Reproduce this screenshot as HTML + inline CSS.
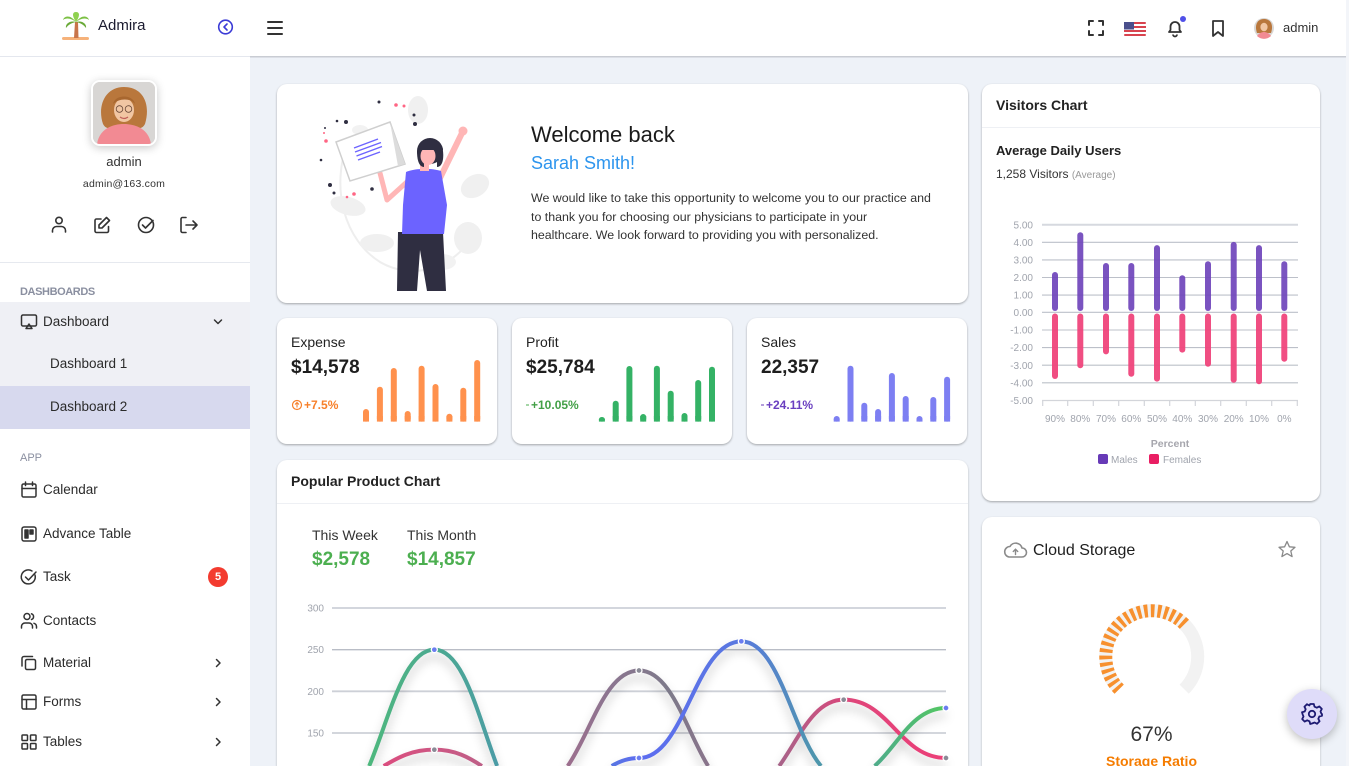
<!DOCTYPE html>
<html><head><meta charset="utf-8">
<style>
*{margin:0;padding:0;box-sizing:border-box}
html,body{width:1349px;height:766px;overflow:hidden}
body{background:#eef2f8;font-family:"Liberation Sans",Arial,sans-serif;color:#212529;position:relative}
#root{position:absolute;left:0;top:0;width:1349px;height:766px;overflow:hidden;background:#eef2f8}
.t{position:absolute;white-space:nowrap;line-height:1}
.card{position:absolute;background:#fff;border-radius:10px;box-shadow:0 1px 2px rgba(0,0,0,.32)}
.cardb{position:absolute;background:#fff;border-radius:10px 10px 0 0;box-shadow:0 1px 2px rgba(0,0,0,.25)}
.sb{font-size:13.5px;color:#2b2b2b}
.gl{font-size:10px;fill:#a0a4ad;font-family:"Liberation Sans",Arial,sans-serif}
</style></head><body><div id="root">

<!-- header -->
<div style="position:absolute;left:0;top:0;width:1349px;height:56px;background:#fff"></div>
<div style="position:absolute;left:0;top:56px;width:250px;height:1px;background:#e4e7ee"></div>
<div style="position:absolute;left:250px;top:56px;width:1099px;height:2px;background:linear-gradient(#bfc3ca,#e6e9ef)"></div>
<div style="position:absolute;left:1346px;top:0;width:3px;height:766px;background:#f3f5f9"></div>

<!-- sidebar -->
<div style="position:absolute;left:0;top:57px;width:250px;height:709px;background:#fff"></div>
<div style="position:absolute;left:0;top:262px;width:250px;height:1px;background:#e6e9ef"></div>
<div style="position:absolute;left:0;top:302px;width:250px;height:84px;background:#eff0f5"></div>
<div style="position:absolute;left:0;top:386px;width:250px;height:43px;background:#d7d9ee"></div>

<div class="t" style="left:98px;top:18px;font-size:15px;color:#1b1b2f">Admira</div>
<div class="t" style="left:1283px;top:21px;font-size:13px;color:#333">admin</div>

<!-- profile avatar -->
<div style="position:absolute;left:91px;top:80px;width:66px;height:66px;border:2px solid #fff;border-radius:9px;box-shadow:0 2px 9px rgba(0,0,0,.22);overflow:hidden;background:#d9d9d9">
<svg width="62" height="62" viewBox="0 0 62 62">
<rect width="62" height="62" fill="#d8d6d4"/>
<path d="M10,42 C4,24 12,5 31,5 C50,5 58,22 52,42 C48,50 40,44 31,46 C22,44 14,50 10,42Z" fill="#b9773c"/>
<ellipse cx="31" cy="28" rx="10" ry="12" fill="#f1c6a3"/>
<path d="M20,22 C22,12 40,12 42,22 C38,16 26,16 20,22Z" fill="#a8672f"/>
<circle cx="26.5" cy="27" r="3.3" fill="none" stroke="#6a4a3a" stroke-width=".8"/>
<circle cx="35.5" cy="27" r="3.3" fill="none" stroke="#6a4a3a" stroke-width=".8"/>
<path d="M27,35 q4,3 8,0" stroke="#c0605a" stroke-width="1.2" fill="none"/>
<path d="M4,62 C6,48 18,42 31,42 C44,42 56,48 58,62Z" fill="#f28a93"/>
</svg></div>
<div class="t" style="left:0;width:248px;text-align:center;top:155px;font-size:13px;color:#333">admin</div>
<div class="t" style="left:0;width:248px;text-align:center;top:178.5px;font-size:10.5px;color:#333;letter-spacing:.2px">admin@163.com</div>

<div class="t" style="left:20px;top:286.5px;font-size:11px;font-weight:bold;color:#8a8fa0;letter-spacing:-.4px">DASHBOARDS</div>
<div class="t sb" style="left:43px;top:314.8px">Dashboard</div>
<div class="t sb" style="left:50px;top:356.8px">Dashboard 1</div>
<div class="t sb" style="left:50px;top:399.8px">Dashboard 2</div>
<div class="t" style="left:20px;top:452.5px;font-size:11px;color:#8a8fa0">APP</div>
<div class="t sb" style="left:43px;top:482.8px">Calendar</div>
<div class="t sb" style="left:43px;top:526.8px">Advance Table</div>
<div class="t sb" style="left:43px;top:569.8px">Task</div>
<div class="t sb" style="left:43px;top:613.8px">Contacts</div>
<div class="t sb" style="left:43px;top:655.8px">Material</div>
<div class="t sb" style="left:43px;top:694.8px">Forms</div>
<div class="t sb" style="left:43px;top:734.8px">Tables</div>
<div style="position:absolute;left:208px;top:567px;width:20px;height:20px;border-radius:10px;background:#f33b2f;color:#fff;font-size:11px;font-weight:bold;text-align:center;line-height:20px">5</div>

<!-- cards -->
<div class="card" style="left:277px;top:84px;width:691px;height:219px"></div>
<div class="card" style="left:277px;top:318px;width:220px;height:126px"></div>
<div class="card" style="left:512px;top:318px;width:220px;height:126px"></div>
<div class="card" style="left:747px;top:318px;width:220px;height:126px"></div>
<div class="cardb" style="left:277px;top:460px;width:691px;height:306px"></div>
<div class="card" style="left:982px;top:84px;width:338px;height:417px"></div>
<div class="cardb" style="left:982px;top:517px;width:338px;height:249px"></div>
<div style="position:absolute;left:277px;top:503px;width:691px;height:1px;background:#eef0f4"></div>
<div style="position:absolute;left:982px;top:127px;width:338px;height:1px;background:#eef0f4"></div>

<!-- welcome text -->
<div class="t" style="left:531px;top:124px;font-size:22px;color:#1a1a1a">Welcome back</div>
<div class="t" style="left:531px;top:153.5px;font-size:18px;color:#2d95ee">Sarah Smith!</div>
<div class="t" style="left:531px;top:192.4px;font-size:12.4px;color:#333">We would like to take this opportunity to welcome you to our practice and</div>
<div class="t" style="left:531px;top:211.4px;font-size:12.4px;color:#333">to thank you for choosing our physicians to participate in your</div>
<div class="t" style="left:531px;top:229.4px;font-size:12.4px;color:#333">healthcare. We look forward to providing you with personalized.</div>

<!-- small cards text -->
<div class="t" style="left:291px;top:334.6px;font-size:14px;color:#222">Expense</div>
<div class="t" style="left:291px;top:357.7px;font-size:19px;font-weight:bold;color:#1e1e1e">$14,578</div>
<div class="t" style="left:304px;top:399px;font-size:12px;font-weight:bold;color:#f7802a">+7.5%</div>
<div class="t" style="left:526px;top:334.6px;font-size:14px;color:#222">Profit</div>
<div class="t" style="left:526px;top:357.7px;font-size:19px;font-weight:bold;color:#1e1e1e">$25,784</div>
<div class="t" style="left:531px;top:399px;font-size:12px;font-weight:bold;color:#43a047">+10.05%</div>
<div class="t" style="left:761px;top:334.6px;font-size:14px;color:#222">Sales</div>
<div class="t" style="left:761px;top:357.7px;font-size:19px;font-weight:bold;color:#1e1e1e">22,357</div>
<div class="t" style="left:766px;top:399px;font-size:12px;font-weight:bold;color:#6a3fc0">+24.11%</div>

<!-- popular -->
<div class="t" style="left:291px;top:474px;font-size:14px;font-weight:bold;color:#222">Popular Product Chart</div>
<div class="t" style="left:312px;top:527.6px;font-size:14px;color:#333">This Week</div>
<div class="t" style="left:312px;top:549.7px;font-size:19px;font-weight:bold;color:#4caf50">$2,578</div>
<div class="t" style="left:407px;top:527.6px;font-size:14px;color:#333">This Month</div>
<div class="t" style="left:407px;top:549.7px;font-size:19px;font-weight:bold;color:#4caf50">$14,857</div>

<!-- visitors -->
<div class="t" style="left:996px;top:98px;font-size:14px;font-weight:bold;color:#222">Visitors Chart</div>
<div class="t" style="left:996px;top:144.1px;font-size:13px;font-weight:bold;color:#222">Average Daily Users</div>
<div class="t" style="left:996px;top:167.6px;font-size:12px;color:#333">1,258 Visitors <span style="font-size:10px;color:#999">(Average)</span></div>

<!-- cloud -->
<div class="t" style="left:1033px;top:542.5px;font-size:16px;color:#1e1e1e">Cloud Storage</div>
<div class="t" style="left:1101px;top:723.7px;width:101px;text-align:center;font-size:21px;color:#333">67%</div>
<div style="position:absolute;left:1091px;top:753px;width:121px;height:13px;overflow:hidden">
<div style="position:absolute;left:0;top:0.6px;width:121px;height:12.4px;overflow:hidden;white-space:nowrap;line-height:14px;text-align:center;font-size:14px;font-weight:bold;color:#f57c00">Storage Ratio</div>
</div>

<svg width="1349" height="766" style="position:absolute;left:0;top:0" viewBox="0 0 1349 766">
<defs>
<linearGradient id="gA" gradientUnits="userSpaceOnUse" x1="332" y1="0" x2="946" y2="0">
<stop offset="0" stop-color="#4fbf72"/><stop offset=".25" stop-color="#4b9fa0"/><stop offset=".5" stop-color="#5c6cf0"/><stop offset=".66" stop-color="#5a78e0"/><stop offset=".8" stop-color="#4d98a8"/><stop offset="1" stop-color="#52c761"/>
</linearGradient>
<linearGradient id="gB" gradientUnits="userSpaceOnUse" x1="332" y1="0" x2="946" y2="0">
<stop offset="0" stop-color="#e8457a"/><stop offset=".2" stop-color="#c85a85"/><stop offset=".45" stop-color="#8c7590"/><stop offset=".55" stop-color="#7d7a8a"/><stop offset=".7" stop-color="#9a6a8c"/><stop offset=".85" stop-color="#e0457a"/><stop offset="1" stop-color="#ec3f78"/>
</linearGradient>
<filter id="sh" x="-10%" y="-20%" width="120%" height="160%"><feDropShadow dx="0" dy="7" stdDeviation="5" flood-color="#000" flood-opacity=".22"/></filter>
<clipPath id="cb"><rect x="0" y="0" width="1349" height="421.7"/></clipPath>
<clipPath id="cpage"><rect x="0" y="0" width="1349" height="766"/></clipPath>
</defs>
<g clip-path="url(#cpage)">

<!-- logo palm -->
<g>
<rect x="62" y="37" width="27" height="3" rx="1.5" fill="#f6b27a"/>
<path d="M74,38 L75,22 L78,22 L78.5,38Z" fill="#c8744a"/>
<path d="M76,22 C70,14 64,16 63,20 C67,17 72,19 76,22Z" fill="#7bc043"/>
<path d="M76,22 C82,14 88,16 89,20 C85,17 80,19 76,22Z" fill="#7bc043"/>
<path d="M76,22 C72,16 72,12 76,12 C80,12 80,16 76,22Z" fill="#8fd14f"/>
<path d="M76,22 C70,20 65,24 66,28 C69,24 72,23 76,22Z" fill="#6aaa38"/>
<path d="M76,22 C82,20 87,24 86,28 C83,24 80,23 76,22Z" fill="#6aaa38"/>
</g>
<!-- collapse -->
<circle cx="225.5" cy="27" r="6.8" fill="none" stroke="#3b3bd6" stroke-width="1.6"/>
<path d="M227,24 L224,27 L227,30" fill="none" stroke="#3b3bd6" stroke-width="1.6" stroke-linecap="round" stroke-linejoin="round"/>
<!-- hamburger -->
<g stroke="#333" stroke-width="2" stroke-linecap="round"><line x1="268" y1="22" x2="282" y2="22"/><line x1="268" y1="28" x2="282" y2="28"/><line x1="268" y1="34" x2="282" y2="34"/></g>
<!-- fullscreen -->
<g fill="none" stroke="#333" stroke-width="2" stroke-linecap="round" stroke-linejoin="round">
<path d="M1089,25 V21 H1093"/><path d="M1099,21 H1103 V25"/><path d="M1103,31 V35 H1099"/><path d="M1093,35 H1089 V31"/>
</g>
<!-- flag -->
<g>
<rect x="1124" y="22" width="22" height="14" rx="3" fill="#fff"/>
<g fill="#d8434f"><rect x="1124" y="22" width="22" height="2" rx="1"/><rect x="1124" y="26" width="22" height="2"/><rect x="1124" y="30" width="22" height="2"/><rect x="1124" y="34" width="22" height="2" rx="1"/></g>
<rect x="1124" y="22" width="10" height="7.5" fill="#4a4f8c"/>
</g>
<!-- bell -->
<path d="M1169,32 H1181 L1179.5,30 V26.5 A4.5,4.5 0 0 0 1170.5,26.5 V30 Z" fill="none" stroke="#333" stroke-width="1.8" stroke-linejoin="round"/>
<path d="M1173,34.5 A2,2 0 0 0 1177,34.5" fill="none" stroke="#333" stroke-width="1.8"/>
<circle cx="1183" cy="19" r="3" fill="#5050e8"/>
<!-- bookmark -->
<path d="M1213,21 H1223 V36 L1218,32 L1213,36 Z" fill="none" stroke="#333" stroke-width="1.8" stroke-linejoin="round"/>
<!-- header avatar -->
<circle cx="1264" cy="28" r="10" fill="#d8d6d4"/>
<path d="M1257,33 C1254,24 1258,19 1264,19 C1270,19 1274,24 1271,33Z" fill="#b9773c"/>
<ellipse cx="1264" cy="27" rx="3.6" ry="4.3" fill="#f1c6a3"/>
<path d="M1257,36 C1259,33 1262,32 1264,32 C1266,32 1269,33 1271,36 A10,10 0 0 1 1257,36Z" fill="#f28a93"/>

<!-- profile icons -->
<g fill="none" stroke="#333" stroke-width="1.6" stroke-linecap="round" stroke-linejoin="round">
<circle cx="59" cy="220.5" r="3.2"/><path d="M52.5,232 V230.5 A4,4 0 0 1 56.5,226.5 H61.5 A4,4 0 0 1 65.5,230.5 V232"/>
<path d="M101,219 H96.5 A1.5,1.5 0 0 0 95,220.5 V231 A1.5,1.5 0 0 0 96.5,232.5 H107 A1.5,1.5 0 0 0 108.5,231 V226.5"/><path d="M106.5,217.5 L109.5,220.5 L102,228 H99 V225 Z"/>
<circle cx="146" cy="225" r="7.5"/><path d="M142.5,225 L145.5,228 L153,220.5"/>
<path d="M186,217.5 H182.5 A1.5,1.5 0 0 0 181,219 V231 A1.5,1.5 0 0 0 182.5,232.5 H186"/><path d="M186,225 H197 M193,221 L197,225 L193,229"/>
</g>

<!-- sidebar icons -->
<g fill="none" stroke="#333" stroke-width="1.5" stroke-linecap="round" stroke-linejoin="round">
<rect x="21.5" y="315" width="15" height="11" rx="1.5"/><path d="M26,328.5 L29,324 L32,328.5 Z"/>
<path d="M214.5,320 L218,323.5 L221.5,320"/>
<rect x="22" y="484" width="14" height="13" rx="1.5"/><path d="M22,488.5 H36 M25.5,482 V485.5 M32.5,482 V485.5"/>
<rect x="22" y="527" width="14" height="14" rx="2"/><rect x="25" y="530" width="3" height="8" fill="#333"/><rect x="30" y="530" width="3" height="4" fill="#333"/>
<path d="M35,575 A7,7 0 1 1 32,571"/><path d="M25.5,577 L28.5,580 L36,572"/>
<circle cx="27" cy="616.5" r="3"/><path d="M21.5,628 V626.5 A3.5,3.5 0 0 1 25,623 H29 A3.5,3.5 0 0 1 32.5,626.5 V628"/><path d="M31.5,613.8 A3,3 0 0 1 31.5,619.5 M34,623.3 A3.5,3.5 0 0 1 36.5,626.5 V628"/>
<rect x="25.5" y="659.5" width="10" height="10" rx="1.5"/><path d="M32.5,656.5 H24 A2,2 0 0 0 22,658.5 V666"/>
<path d="M216.5,659.5 L220,663 L216.5,666.5"/>
<rect x="22" y="695" width="14" height="14" rx="1.5"/><path d="M22,699.5 H36 M26.5,699.5 V709"/>
<path d="M216.5,698.5 L220,702 L216.5,705.5"/>
<rect x="22" y="735" width="5.5" height="5.5" rx=".8"/><rect x="30.5" y="735" width="5.5" height="5.5" rx=".8"/><rect x="22" y="743.5" width="5.5" height="5.5" rx=".8"/><rect x="30.5" y="743.5" width="5.5" height="5.5" rx=".8"/>
<path d="M216.5,738.5 L220,742 L216.5,745.5"/>
</g>

<!-- welcome illustration -->
<g>
<path d="M348,140 C330,190 345,240 380,262 C410,280 450,270 470,240" fill="none" stroke="#eeeeee" stroke-width="2"/>
<ellipse cx="418" cy="110" rx="10" ry="14" fill="#f0f0f0"/>
<ellipse cx="475" cy="186" rx="15" ry="11" fill="#f0f0f0" transform="rotate(-30 475 186)"/>
<ellipse cx="468" cy="238" rx="14" ry="16" fill="#f0f0f0"/>
<ellipse cx="348" cy="206" rx="18" ry="9" fill="#f0f0f0" transform="rotate(15 348 206)"/>
<ellipse cx="377" cy="243" rx="17" ry="9" fill="#f0f0f0"/>
<ellipse cx="442" cy="262" rx="14" ry="8" fill="#f2f2f2"/>
<ellipse cx="360" cy="130" rx="8" ry="5" fill="#f2f2f2"/>
<g fill="#2f2e41"><circle cx="346" cy="122" r="2"/><circle cx="379" cy="102" r="1.5"/><circle cx="414" cy="115" r="1.5"/><circle cx="415" cy="124" r="2"/><circle cx="330" cy="185" r="2"/><circle cx="334" cy="193" r="1.5"/><circle cx="372" cy="189" r="1.8"/><circle cx="321" cy="160" r="1.3"/><circle cx="337" cy="121" r="1.3"/><circle cx="325" cy="128" r="1"/></g>
<g fill="#ff6584"><circle cx="396" cy="105" r="1.8"/><circle cx="404" cy="106" r="1.5"/><circle cx="326" cy="141" r="1.8"/><circle cx="354" cy="194" r="1.8"/><circle cx="347" cy="197" r="1.3"/><circle cx="324" cy="133" r="1"/></g>
<path d="M398,232 H443 L446,291 H427 L420,250 L417,291 H397 Z" fill="#2f2e41"/>
<path d="M440,178 L463,131" stroke="#ffb6b6" stroke-width="6" stroke-linecap="round"/>
<circle cx="463" cy="131" r="4.5" fill="#ffb6b6"/>
<path d="M408,181 L387,200 L380,173" fill="none" stroke="#ffb6b6" stroke-width="5" stroke-linecap="round" stroke-linejoin="round"/>
<path d="M406,172 C415,168 432,168 441,171 L447,205 L444,234 H402 L403,205 Z" fill="#6c63ff"/>
<rect x="420" y="162" width="9" height="9" fill="#ffb6b6"/>
<circle cx="430" cy="151" r="13" fill="#2f2e41"/>
<path d="M417,151 C417,160 419,167 424,167 L424,155Z" fill="#2f2e41"/>
<path d="M443,151 C444,160 442,167 437,167 L437,155Z" fill="#2f2e41"/>
<ellipse cx="428" cy="156" rx="7.5" ry="9" fill="#ffb6b6"/>
<path d="M418,148 C418,138 442,136 443,150 L420,150Z" fill="#2f2e41"/>
<path d="M336,142 L390,122 L405,164 L350,181 Z" fill="#fff" stroke="#cfcfcf" stroke-width="1.5"/>
<path d="M390,122 L405,164 L398,166 Z" fill="#dcdcdc"/>
<g stroke="#6c63ff" stroke-width="1.4"><line x1="354" y1="148" x2="378" y2="139"/><line x1="355" y1="152" x2="381" y2="142.5"/><line x1="356.5" y1="156" x2="382" y2="146.5"/><line x1="358" y1="160" x2="380" y2="152"/></g>
</g>

<!-- small card bars -->
<g clip-path="url(#cb)">
<g fill="#ff914d">
<rect x="363" y="409" width="6" height="12.7" rx="3"/><rect x="376.9" y="386.7" width="6" height="35" rx="3"/><rect x="390.8" y="368" width="6" height="53.7" rx="3"/><rect x="404.7" y="411" width="6" height="10.7" rx="3"/><rect x="418.6" y="365.7" width="6" height="56" rx="3"/><rect x="432.5" y="384" width="6" height="37.7" rx="3"/><rect x="446.4" y="413.7" width="6" height="8" rx="3"/><rect x="460.3" y="387.7" width="6" height="34" rx="3"/><rect x="474.2" y="360" width="6" height="61.7" rx="3"/>
<rect x="363" y="416" width="6" height="5.7"/><rect x="376.9" y="416" width="6" height="5.7"/><rect x="390.8" y="416" width="6" height="5.7"/><rect x="404.7" y="416" width="6" height="5.7"/><rect x="418.6" y="416" width="6" height="5.7"/><rect x="432.5" y="416" width="6" height="5.7"/><rect x="446.4" y="416" width="6" height="5.7"/><rect x="460.3" y="416" width="6" height="5.7"/><rect x="474.2" y="416" width="6" height="5.7"/>
</g>
<g fill="#34b265">
<rect x="598.9" y="417" width="6" height="4.7" rx="3"/><rect x="612.7" y="400.7" width="6" height="21" rx="3"/><rect x="626.4" y="366" width="6" height="55.7" rx="3"/><rect x="640.2" y="414" width="6" height="7.7" rx="3"/><rect x="653.9" y="365.7" width="6" height="56" rx="3"/><rect x="667.7" y="390.7" width="6" height="31" rx="3"/><rect x="681.5" y="413" width="6" height="8.7" rx="3"/><rect x="695.2" y="380" width="6" height="41.7" rx="3"/><rect x="709" y="366.7" width="6" height="55" rx="3"/>
<rect x="598.9" y="419" width="6" height="2.7"/><rect x="612.7" y="416" width="6" height="5.7"/><rect x="626.4" y="416" width="6" height="5.7"/><rect x="640.2" y="416" width="6" height="5.7"/><rect x="653.9" y="416" width="6" height="5.7"/><rect x="667.7" y="416" width="6" height="5.7"/><rect x="681.5" y="416" width="6" height="5.7"/><rect x="695.2" y="416" width="6" height="5.7"/><rect x="709" y="416" width="6" height="5.7"/>
</g>
<g fill="#7d7ff2">
<rect x="833.7" y="416" width="6" height="5.7" rx="3"/><rect x="847.5" y="365.7" width="6" height="56" rx="3"/><rect x="861.3" y="402.7" width="6" height="19" rx="3"/><rect x="875.1" y="409" width="6" height="12.7" rx="3"/><rect x="888.9" y="373" width="6" height="48.7" rx="3"/><rect x="902.7" y="396" width="6" height="25.7" rx="3"/><rect x="916.5" y="416" width="6" height="5.7" rx="3"/><rect x="930.3" y="397" width="6" height="24.7" rx="3"/><rect x="944.1" y="376.7" width="6" height="45" rx="3"/>
<rect x="833.7" y="419" width="6" height="2.7"/><rect x="847.5" y="416" width="6" height="5.7"/><rect x="861.3" y="416" width="6" height="5.7"/><rect x="875.1" y="416" width="6" height="5.7"/><rect x="888.9" y="416" width="6" height="5.7"/><rect x="902.7" y="416" width="6" height="5.7"/><rect x="916.5" y="419" width="6" height="2.7"/><rect x="930.3" y="416" width="6" height="5.7"/><rect x="944.1" y="416" width="6" height="5.7"/>
</g>
</g>
<circle cx="297" cy="405" r="4.5" fill="none" stroke="#f7802a" stroke-width="1.2"/>
<path d="M297,407.5 V402.5 M295,404.5 L297,402.5 L299,404.5" fill="none" stroke="#f7802a" stroke-width="1.1"/>
<rect x="526" y="404" width="3" height="2" fill="#a5d6a7"/>
<rect x="761" y="404" width="3" height="2" fill="#b39ddb"/>

<!-- popular product chart -->
<g stroke-width="1.3">
<line x1="332" y1="608" x2="946" y2="608" stroke="#d3d6dd" stroke-width="2"/>
<line x1="332" y1="649.7" x2="946" y2="649.7" stroke="#b9bdc6"/>
<line x1="332" y1="691.3" x2="946" y2="691.3" stroke="#cdd0d7" stroke-width="1.8"/>
<line x1="332" y1="733" x2="946" y2="733" stroke="#b9bdc6"/>
</g>
<g class="gl" text-anchor="end" font-size="10">
<text x="324" y="611.5">300</text><text x="324" y="653.2">250</text><text x="324" y="694.8">200</text><text x="324" y="736.5">150</text>
</g>
<g fill="none" stroke-width="4" stroke-linecap="butt" filter="url(#sh)">
<path stroke="url(#gB)" d="M383.73,766 C397.63,757.78 411.63,749.67 434.33,749.67 C455.35,749.67 468.92,757.5 481.87,766 M567.72,766 C590.93,732.37 605.5,670.5 639,670.5 C671.43,670.5 686.14,730.58 708.11,766 M779.23,766 C798.76,738.88 813.59,699.67 843.67,699.67 C889.67,699.67 900,758 946,758"/>
<path stroke="url(#gA)" d="M369.17,766 C389.02,719 403.87,649.67 434.33,649.67 C463.55,649.67 478.39,716.93 497.11,766 M611.81,766 C619.55,761.16 628.3,758 639,758 C685,758 695.33,641.33 741.33,641.33 C778.65,641.33 792.5,731.86 820.97,766 M874.69,766 C897.91,745.59 912.49,708 946,708"/>
</g>
<g stroke="#fff" stroke-width="1.3">
<circle cx="434.33" cy="649.67" r="3" fill="#6a7cf0"/><circle cx="639" cy="758" r="3" fill="#6a7cf0"/><circle cx="741.33" cy="641.33" r="3" fill="#6a7cf0"/><circle cx="946" cy="708" r="3" fill="#6a7cf0"/>
<circle cx="434.33" cy="749.67" r="3" fill="#8a8a96"/><circle cx="639" cy="670.5" r="3" fill="#8a8a96"/><circle cx="843.67" cy="699.67" r="3" fill="#8a8a96"/><circle cx="946" cy="758" r="3" fill="#8a8a96"/>
</g>

<!-- visitors chart -->
<line x1="1042" y1="224.7" x2="1298" y2="224.7" stroke="#d6d9df" stroke-width="2"/>
<g stroke="#bcc0c9" stroke-width="1.1">
<line x1="1042" y1="242.3" x2="1298" y2="242.3"/><line x1="1042" y1="259.9" x2="1298" y2="259.9"/><line x1="1042" y1="277.5" x2="1298" y2="277.5"/><line x1="1042" y1="295.1" x2="1298" y2="295.1"/><line x1="1042" y1="312.3" x2="1298" y2="312.3"/><line x1="1042" y1="330" x2="1298" y2="330"/><line x1="1042" y1="347.6" x2="1298" y2="347.6"/><line x1="1042" y1="365.2" x2="1298" y2="365.2"/><line x1="1042" y1="382.8" x2="1298" y2="382.8"/>
</g>
<g stroke="#d3d5da" stroke-width="1.2">
<line x1="1042" y1="400.5" x2="1298" y2="400.5"/>
<line x1="1042.7" y1="400.5" x2="1042.7" y2="406"/><line x1="1067.7" y1="400.5" x2="1067.7" y2="406"/><line x1="1093.3" y1="400.5" x2="1093.3" y2="406"/><line x1="1118.7" y1="400.5" x2="1118.7" y2="406"/><line x1="1144.3" y1="400.5" x2="1144.3" y2="406"/><line x1="1169.7" y1="400.5" x2="1169.7" y2="406"/><line x1="1195.3" y1="400.5" x2="1195.3" y2="406"/><line x1="1220.7" y1="400.5" x2="1220.7" y2="406"/><line x1="1246.3" y1="400.5" x2="1246.3" y2="406"/><line x1="1271.7" y1="400.5" x2="1271.7" y2="406"/><line x1="1297.3" y1="400.5" x2="1297.3" y2="406"/>
</g>
<g class="gl" text-anchor="end" font-size="10">
<text x="1033" y="228.3">5.00</text><text x="1033" y="245.9">4.00</text><text x="1033" y="263.5">3.00</text><text x="1033" y="281.1">2.00</text><text x="1033" y="298.7">1.00</text><text x="1033" y="316">0.00</text><text x="1033" y="333.6">-1.00</text><text x="1033" y="351.2">-2.00</text><text x="1033" y="368.8">-3.00</text><text x="1033" y="386.4">-4.00</text><text x="1033" y="404">-5.00</text>
</g>
<g fill="#6f45bb" opacity=".92">
<rect x="1052" y="272" width="6" height="39" rx="3"/><rect x="1077.3" y="232.2" width="6" height="78.8" rx="3"/><rect x="1103" y="263" width="6" height="48" rx="3"/><rect x="1128.3" y="263" width="6" height="48" rx="3"/><rect x="1154" y="245.1" width="6" height="65.9" rx="3"/><rect x="1179.3" y="275.3" width="6" height="35.7" rx="3"/><rect x="1205" y="261.3" width="6" height="49.7" rx="3"/><rect x="1230.7" y="241.9" width="6" height="69.1" rx="3"/><rect x="1256" y="245.1" width="6" height="65.9" rx="3"/><rect x="1281.3" y="261.3" width="6" height="49.7" rx="3"/>
</g>
<g fill="#f0457c" opacity=".95">
<rect x="1052" y="313.5" width="6" height="65.5" rx="3"/><rect x="1077.3" y="313.5" width="6" height="54.8" rx="3"/><rect x="1103" y="313.5" width="6" height="40.9" rx="3"/><rect x="1128.3" y="313.5" width="6" height="63.2" rx="3"/><rect x="1154" y="313.5" width="6" height="68.1" rx="3"/><rect x="1179.3" y="313.5" width="6" height="39.1" rx="3"/><rect x="1205" y="313.5" width="6" height="53.2" rx="3"/><rect x="1230.7" y="313.5" width="6" height="69.2" rx="3"/><rect x="1256" y="313.5" width="6" height="70.8" rx="3"/><rect x="1281.3" y="313.5" width="6" height="48.3" rx="3"/>
</g>
<g class="gl" text-anchor="middle" font-size="10.5">
<text x="1055" y="422">90%</text><text x="1080.3" y="422">80%</text><text x="1106" y="422">70%</text><text x="1131.3" y="422">60%</text><text x="1157" y="422">50%</text><text x="1182.3" y="422">40%</text><text x="1208" y="422">30%</text><text x="1233.7" y="422">20%</text><text x="1259" y="422">10%</text><text x="1284.3" y="422">0%</text>
</g>
<text x="1170" y="447" text-anchor="middle" font-size="10.5" font-weight="bold" fill="#a6a6ad" font-family="Liberation Sans, Arial, sans-serif">Percent</text>
<rect x="1098" y="454" width="10" height="10" rx="2" fill="#673ab7"/>
<text x="1111" y="463" class="gl" font-size="10.5">Males</text>
<rect x="1149" y="454" width="10" height="10" rx="2" fill="#e91e63"/>
<text x="1163" y="463" class="gl" font-size="10.5">Females</text>

<!-- cloud icon, star -->
<path d="M1009,557 H1022 A4.5,4.5 0 0 0 1022,548 A6.5,6.5 0 0 0 1010,546.5 A5.3,5.3 0 0 0 1009,557 Z" fill="none" stroke="#8a8a8a" stroke-width="1.6" stroke-linejoin="round"/>
<path d="M1015.5,554.5 V549.5 M1013.3,551.5 L1015.5,549.3 L1017.7,551.5" fill="none" stroke="#8a8a8a" stroke-width="1.4" stroke-linecap="round"/>
<path d="M1287,541.5 L1289.4,546.8 L1295,547.3 L1290.8,551 L1292.1,556.6 L1287,553.6 L1281.9,556.6 L1283.2,551 L1279,547.3 L1284.6,546.8 Z" fill="none" stroke="#8a8a8a" stroke-width="1.3" stroke-linejoin="round"/>

<!-- gauge -->
<path d="M1119.2,689.2 A46,46 0 1 1 1184.2,689.2" fill="none" stroke="#f2f2f2" stroke-width="13"/>
<path d="M1119.2,689.2 A46,46 0 1 1 1184.8,624.7" fill="none" stroke="#f7902e" stroke-width="13" stroke-dasharray="3.6 3.1"/>
</g>
</svg>

<!-- FAB -->
<div style="position:absolute;left:1287px;top:689px;width:50px;height:50px;border-radius:25px;background:#dfdcf9;box-shadow:0 3px 9px rgba(0,0,0,.25)">
<svg width="50" height="50" viewBox="0 0 50 50"><g transform="translate(25 25)" fill="none" stroke="#1d1a72" stroke-width="1.8" stroke-linejoin="round">
<path d="M-1.8,-10 H1.8 L2.5,-7.3 L4.8,-6.3 L7.3,-7.6 L9.8,-5.1 L8.5,-2.6 L9.4,-0.3 L10,0 V1.8 L7.3,2.5 L6.3,4.8 L7.6,7.3 L5.1,9.8 L2.6,8.5 L0.3,9.4 L-1.8,10 L-2.5,7.3 L-4.8,6.3 L-7.3,7.6 L-9.8,5.1 L-8.5,2.6 L-9.4,0.3 L-10,-1.8 L-7.3,-2.5 L-6.3,-4.8 L-7.6,-7.3 L-5.1,-9.8 L-2.6,-8.5 Z"/>
<circle r="3.2"/></g></svg>
</div>
</div></body></html>
